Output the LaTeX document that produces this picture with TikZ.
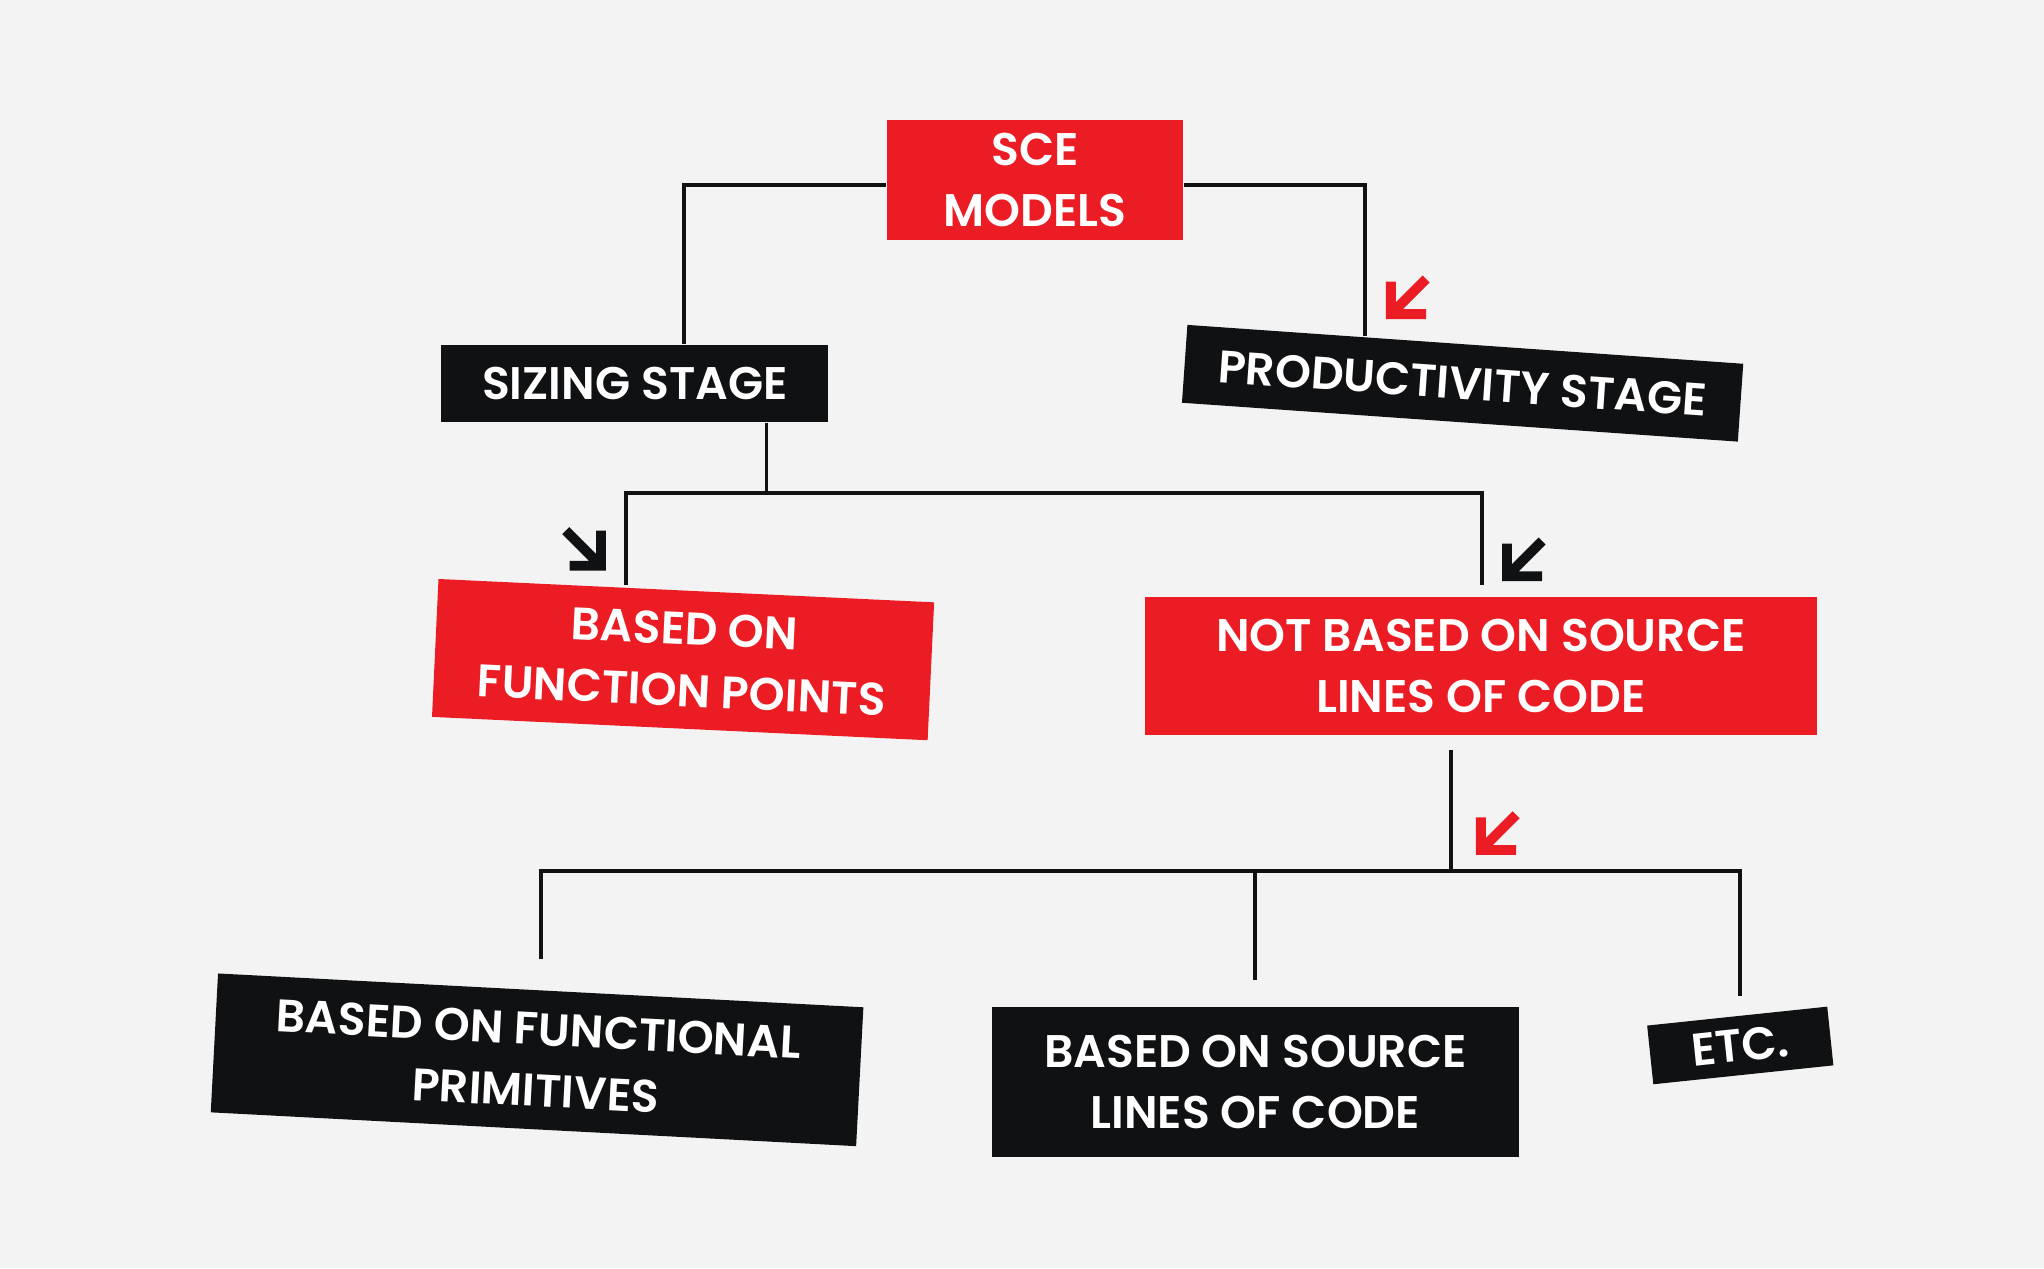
\documentclass[tikz,border=0pt]{standalone}
\usepackage{fontspec}
\setmainfont{Poppins}[BoldFont={Poppins SemiBold}]
\usetikzlibrary{positioning}
\definecolor{sred}{HTML}{EC1C24}
\definecolor{sblack}{HTML}{0F1113}
\definecolor{sbg}{HTML}{F3F3F3}

\begin{document}
\begin{tikzpicture}[x=0.013036cm,y=-0.013036cm,semithick,
                    font=\bfseries\fontsize{13}{17.5}\selectfont]
  \tikzset{box/.style={text=white,inner sep=0pt,align=center},
           redbox/.style={box,fill=sred},
           blackbox/.style={box,fill=sblack},
           link/.style={draw=sblack,line width=1.1pt},
           icon/.style={line width=2.8pt}}
  \fill[sbg] (0,0) rectangle (1568,973);

  \node[redbox,minimum width=2.96cm,minimum height=1.2cm] (sce) at (794,138) {SCE\\MODELS};
  \node[blackbox,minimum width=3.87cm,minimum height=0.77cm] (size) at (487,294) {SIZING STAGE};
  \node[blackbox,minimum width=5.57cm,minimum height=0.78cm,rotate=-4] (prod) at (1122,294) {PRODUCTIVITY STAGE};
  \node[redbox,minimum width=4.96cm,minimum height=1.38cm,rotate=-2.7] (fp) at (524,506) {BASED ON\\FUNCTION POINTS};
  \node[redbox,minimum width=6.72cm,minimum height=1.38cm] (notsloc) at (1136,511) {NOT BASED ON SOURCE\\LINES OF CODE};
  \node[blackbox,minimum width=6.46cm,minimum height=1.39cm,rotate=-3] (prim) at (412,813) {BASED ON FUNCTIONAL\\PRIMITIVES};
  \node[blackbox,minimum width=5.27cm,minimum height=1.5cm] (sloc) at (963,830) {BASED ON SOURCE\\LINES OF CODE};
  \node[blackbox,minimum width=1.81cm,minimum height=0.59cm,rotate=6] (etc) at (1335,802) {ETC.};

  % connectors
  \coordinate (c1) at (525,142);
  \coordinate (c2) at (1047,142);
  \coordinate (c3) at (588,378);
  \coordinate (c4) at (1113,668);
  \draw[link] (sce.west |- c1) -- (c1) -- (c1 |- size.north);
  \draw[link] (sce.east |- c2) -- (c2) -- (1047,258);
  \draw[link] (size.south -| c3) -- (c3);
  \draw[link] (480,449) -- (480,378) -- (1137,378) -- (1137,449);
  \draw[link] (1113,575) -- (c4);
  \draw[link] (415,736) -- (415,668) -- (1335,668) -- (1335,764);
  \draw[link] (963,668) -- (963,752);

  % arrow icons
  \draw[icon,sred] (1094,214) -- (1071,237) (1067,216) -- (1067,241) -- (1094,241);
  \draw[icon,sblack] (434,407) -- (457,430) (437,434) -- (461,434) -- (461,407);
  \draw[icon,sblack] (1183,415) -- (1160,438) (1156,417) -- (1156,442) -- (1183,442);
  \draw[icon,sred] (1163,625) -- (1140,648) (1136,627) -- (1136,652) -- (1163,652);
\end{tikzpicture}
\end{document}
